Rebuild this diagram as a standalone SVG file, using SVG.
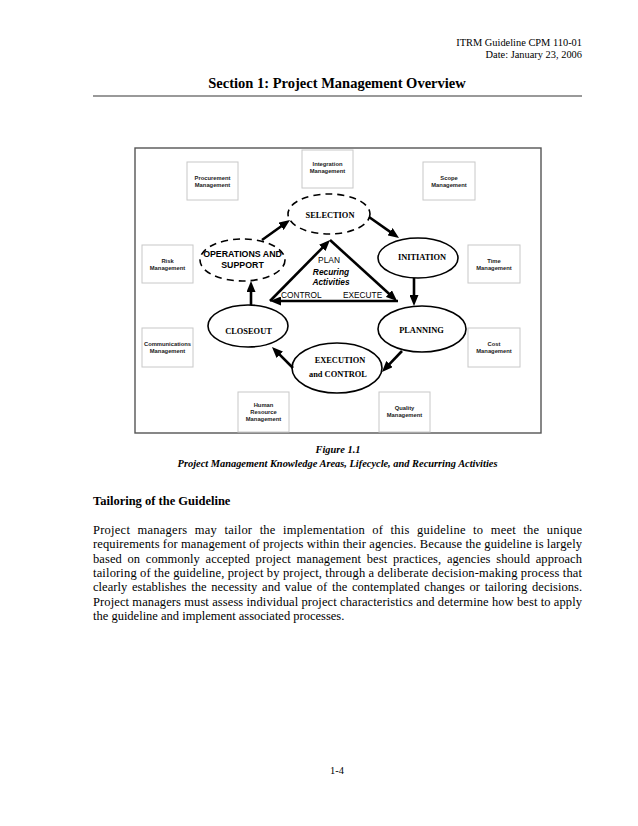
<svg xmlns="http://www.w3.org/2000/svg" width="638" height="826" viewBox="0 0 638 826">
<defs>
<style>
.serif{font-family:"Liberation Serif","Times New Roman",serif;fill:#000}
.sans{font-family:"Liberation Sans",Arial,sans-serif;fill:#000}
.ka{fill:#fff;stroke:#c8c8c8;stroke-width:1}
.kt{font-family:"Liberation Sans",Arial,sans-serif;font-weight:bold;font-size:5.8px;fill:#222;text-anchor:middle}
.stage{fill:#fff;stroke:#000;stroke-width:1.6}
.dash{fill:#fff;stroke:#000;stroke-width:1.6;stroke-dasharray:7 5}
.st{font-family:"Liberation Serif","Times New Roman",serif;font-weight:bold;font-size:8.4px;text-anchor:middle;fill:#000}
.conn{stroke:#000;stroke-width:2.6;fill:none;marker-end:url(#ah)}
.body{font-family:"Liberation Serif","Times New Roman",serif;font-size:12.5px;fill:#000}
</style>
<marker id="ah" markerUnits="userSpaceOnUse" markerWidth="11" markerHeight="9" refX="5" refY="4.5" orient="auto">
<path d="M0,0 L11,4.5 L0,9 z" fill="#000"/>
</marker>
</defs>
<rect width="638" height="826" fill="#fff"/>

<g id="header">
<text class="serif" x="582" y="46" font-size="10.4" text-anchor="end">ITRM Guideline CPM 110-01</text>
<text class="serif" x="582" y="58" font-size="10.4" text-anchor="end">Date: January 23, 2006</text>
<text class="serif" x="337" y="88" font-size="14.5" font-weight="bold" text-anchor="middle">Section 1: Project Management Overview</text>
<line x1="93" y1="96" x2="582" y2="96" stroke="#777" stroke-width="1.3"/>
</g>

<rect id="frame" x="135" y="148" width="406" height="285" fill="none" stroke="#555" stroke-width="1.4"/>

<g id="procurement"><rect class="ka" x="187" y="162" width="51" height="38"/><text class="kt" x="212.5" y="180">Procurement</text><text class="kt" x="212.5" y="187">Management</text></g>
<g id="integration"><rect class="ka" x="302" y="150" width="51" height="38"/><text class="kt" x="327.5" y="166">Integration</text><text class="kt" x="327.5" y="173">Management</text></g>
<g id="scope"><rect class="ka" x="423" y="162" width="52" height="38"/><text class="kt" x="449" y="180">Scope</text><text class="kt" x="449" y="187">Management</text></g>
<g id="risk"><rect class="ka" x="142" y="245" width="51" height="38"/><text class="kt" x="167.5" y="263">Risk</text><text class="kt" x="167.5" y="270">Management</text></g>
<g id="time"><rect class="ka" x="468" y="245" width="52" height="38"/><text class="kt" x="494" y="263">Time</text><text class="kt" x="494" y="270">Management</text></g>
<g id="communications"><rect class="ka" x="142" y="328" width="51" height="39"/><text class="kt" x="167.5" y="346">Communications</text><text class="kt" x="167.5" y="353">Management</text></g>
<g id="cost"><rect class="ka" x="468" y="328" width="52" height="39"/><text class="kt" x="494" y="346">Cost</text><text class="kt" x="494" y="353">Management</text></g>
<g id="human-resource"><rect class="ka" x="238" y="392" width="51" height="40"/><text class="kt" x="263.5" y="407">Human</text><text class="kt" x="263.5" y="414">Resource</text><text class="kt" x="263.5" y="421">Management</text></g>
<g id="quality"><rect class="ka" x="379" y="392" width="51" height="40"/><text class="kt" x="404.5" y="410">Quality</text><text class="kt" x="404.5" y="417">Management</text></g>

<g id="selection"><ellipse class="dash" cx="329" cy="214" rx="41" ry="20"/><text class="st" x="330" y="218">SELECTION</text></g>
<g id="operations"><ellipse class="dash" cx="242.5" cy="260" rx="42.5" ry="21"/><text class="sans" x="242.5" y="257" font-size="8.8" font-weight="bold" text-anchor="middle">OPERATIONS AND</text><text class="sans" x="242.5" y="267.5" font-size="8.8" font-weight="bold" text-anchor="middle">SUPPORT</text></g>
<g id="initiation"><ellipse class="stage" cx="418" cy="258" rx="40" ry="20"/><text class="st" x="422" y="260">INITIATION</text></g>
<g id="closeout"><ellipse class="stage" cx="248" cy="326" rx="40" ry="21"/><text class="st" x="248.5" y="334">CLOSEOUT</text></g>
<g id="planning"><ellipse class="stage" cx="422" cy="329" rx="44" ry="23"/><text class="st" x="421.5" y="333">PLANNING</text></g>
<g id="execution"><ellipse class="stage" cx="337" cy="368" rx="45" ry="25"/><text class="st" x="340" y="363">EXECUTION</text><text class="st" x="338" y="377">and CONTROL</text></g>

<g id="recurring">
<text class="sans" x="329" y="263" font-size="8.4" text-anchor="middle">PLAN</text>
<text class="sans" x="331" y="275" font-size="8.4" font-weight="bold" font-style="italic" text-anchor="middle">Recuring</text>
<text class="sans" x="331" y="285" font-size="8.4" font-weight="bold" font-style="italic" text-anchor="middle">Activities</text>
<text class="sans" x="281" y="298" font-size="8.3">CONTROL</text>
<text class="sans" x="343" y="298" font-size="8.3">EXECUTE</text>
</g>

<g id="connectors">
<line class="conn" x1="262" y1="240" x2="285.1" y2="223.5"/>
<line class="conn" x1="369" y1="217" x2="394.1" y2="234.6"/>
<line class="conn" x1="414" y1="278" x2="414" y2="300"/>
<line class="conn" x1="402" y1="351" x2="386.1" y2="367.7"/>
<line class="conn" x1="293" y1="368" x2="276.2" y2="351.2"/>
<line class="conn" x1="251" y1="305" x2="251" y2="287"/>
<line class="conn" x1="270" y1="301" x2="325.8" y2="244.3"/>
<line class="conn" x1="330" y1="240" x2="392.6" y2="297"/>
<line class="conn" x1="398" y1="301" x2="276" y2="301"/>
</g>

<g id="caption">
<text class="serif" x="338" y="453" font-size="10.4" font-weight="bold" font-style="italic" text-anchor="middle">Figure 1.1</text>
<text class="serif" x="337.5" y="467" font-size="10.4" font-weight="bold" font-style="italic" text-anchor="middle">Project Management Knowledge Areas, Lifecycle, and Recurring Activities</text>
</g>

<g id="text">
<text class="body" x="93" y="505" font-weight="bold">Tailoring of the Guideline</text>
<text class="body" x="93" y="534" textLength="489" lengthAdjust="spacing" word-spacing="4">Project managers may tailor the implementation of this guideline to meet the unique</text>
<text class="body" x="93" y="548.3" textLength="489" lengthAdjust="spacing">requirements for management of projects within their agencies.  Because the guideline is largely</text>
<text class="body" x="93" y="562.6" textLength="489" lengthAdjust="spacing" word-spacing="2.5">based on commonly accepted project management best practices, agencies should approach</text>
<text class="body" x="93" y="576.9" textLength="489" lengthAdjust="spacing">tailoring of the guideline, project by project, through a deliberate decision-making process that</text>
<text class="body" x="93" y="591.2" textLength="489" lengthAdjust="spacing" word-spacing="1.5">clearly establishes the necessity and value of the contemplated changes or tailoring decisions.</text>
<text class="body" x="93" y="605.5" textLength="489" lengthAdjust="spacing">Project managers must assess individual project characteristics and determine how best to apply</text>
<text class="body" x="93" y="619.8">the guideline and implement associated processes.</text>
<text class="serif" x="337" y="774" font-size="10.4" text-anchor="middle">1-4</text>
</g>
</svg>
